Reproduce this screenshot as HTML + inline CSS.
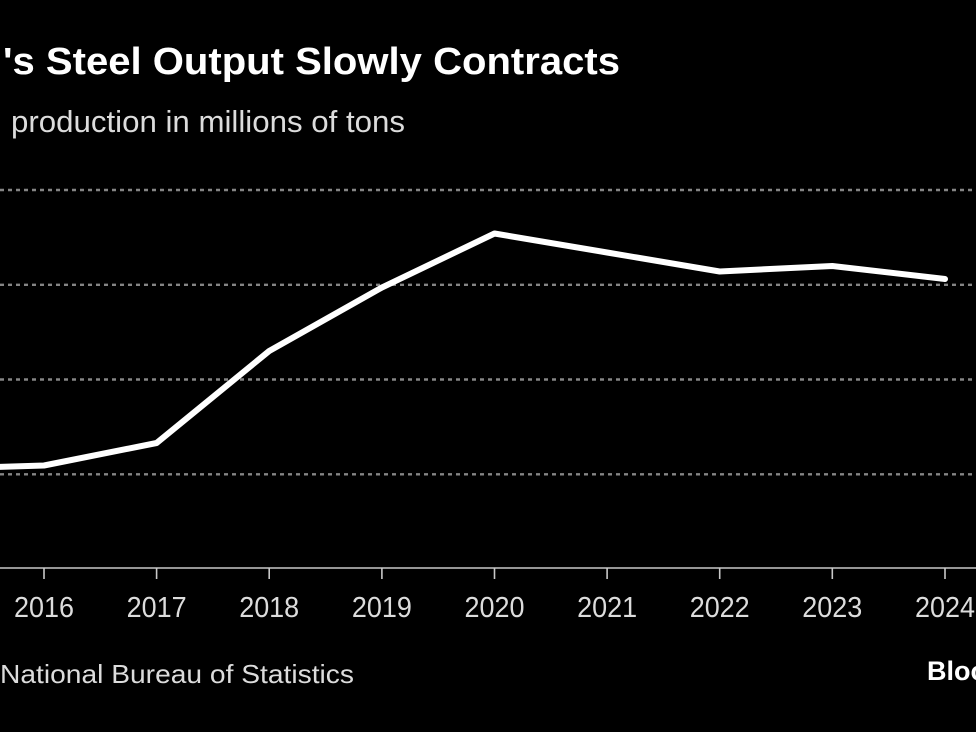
<!DOCTYPE html>
<html>
<head>
<meta charset="utf-8">
<style>
  html, body { margin: 0; padding: 0; background: #000; }
  body { width: 976px; height: 732px; overflow: hidden; }
  svg { display: block; }
</style>
</head>
<body>
<svg width="976" height="732" viewBox="0 0 976 732" xmlns="http://www.w3.org/2000/svg">
  <rect x="0" y="0" width="976" height="732" fill="#000"/>

  <!-- Title -->
  <text x="3" y="74" font-family="Liberation Sans, sans-serif" font-weight="bold" font-size="38" fill="#ffffff" textLength="617" lengthAdjust="spacingAndGlyphs">'s Steel Output Slowly Contracts</text>

  <!-- Subtitle -->
  <text x="11" y="132" font-family="Liberation Sans, sans-serif" font-size="31" fill="#dcdcdc" textLength="394" lengthAdjust="spacingAndGlyphs">production in millions of tons</text>

  <!-- Gridlines -->
  <g stroke="#858585" stroke-width="2.4" stroke-dasharray="4 4">
    <line x1="0" y1="190" x2="976" y2="190"/>
    <line x1="0" y1="284.8" x2="976" y2="284.8"/>
    <line x1="0" y1="379.5" x2="976" y2="379.5"/>
    <line x1="0" y1="474.3" x2="976" y2="474.3"/>
  </g>

  <!-- X axis -->
  <line x1="0" y1="568" x2="976" y2="568" stroke="#c8c8c8" stroke-width="1.6"/>
  <g stroke="#c8c8c8" stroke-width="1.6">
    <line x1="44" y1="568" x2="44" y2="579"/>
    <line x1="156.6" y1="568" x2="156.6" y2="579"/>
    <line x1="269.2" y1="568" x2="269.2" y2="579"/>
    <line x1="381.9" y1="568" x2="381.9" y2="579"/>
    <line x1="494.5" y1="568" x2="494.5" y2="579"/>
    <line x1="607.1" y1="568" x2="607.1" y2="579"/>
    <line x1="719.7" y1="568" x2="719.7" y2="579"/>
    <line x1="832.3" y1="568" x2="832.3" y2="579"/>
    <line x1="945" y1="568" x2="945" y2="579"/>
  </g>

  <!-- Tick labels -->
  <g font-family="Liberation Sans, sans-serif" font-size="29" fill="#dcdcdc" text-anchor="middle">
    <text x="44" y="617" textLength="60" lengthAdjust="spacingAndGlyphs">2016</text>
    <text x="156.6" y="617" textLength="60" lengthAdjust="spacingAndGlyphs">2017</text>
    <text x="269.2" y="617" textLength="60" lengthAdjust="spacingAndGlyphs">2018</text>
    <text x="381.9" y="617" textLength="60" lengthAdjust="spacingAndGlyphs">2019</text>
    <text x="494.5" y="617" textLength="60" lengthAdjust="spacingAndGlyphs">2020</text>
    <text x="607.1" y="617" textLength="60" lengthAdjust="spacingAndGlyphs">2021</text>
    <text x="719.7" y="617" textLength="60" lengthAdjust="spacingAndGlyphs">2022</text>
    <text x="832.3" y="617" textLength="60" lengthAdjust="spacingAndGlyphs">2023</text>
    <text x="945" y="617" textLength="60" lengthAdjust="spacingAndGlyphs">2024</text>
  </g>

  <!-- Data line -->
  <polyline fill="none" stroke="#ffffff" stroke-width="6" stroke-linejoin="round" stroke-linecap="round"
    points="-68.6,469 44,465.5 156.6,443 269.2,351 381.9,287.5 494.5,233.5 607.1,252.5 719.7,271.5 832.3,266 945,279"/>

  <!-- Footer -->
  <text x="0" y="683" font-family="Liberation Sans, sans-serif" font-size="26" fill="#dcdcdc" textLength="354" lengthAdjust="spacingAndGlyphs">National Bureau of Statistics</text>
  <text x="927" y="680" font-family="Liberation Sans, sans-serif" font-weight="bold" font-size="27" fill="#ffffff">Bloomberg</text>
</svg>
</body>
</html>
